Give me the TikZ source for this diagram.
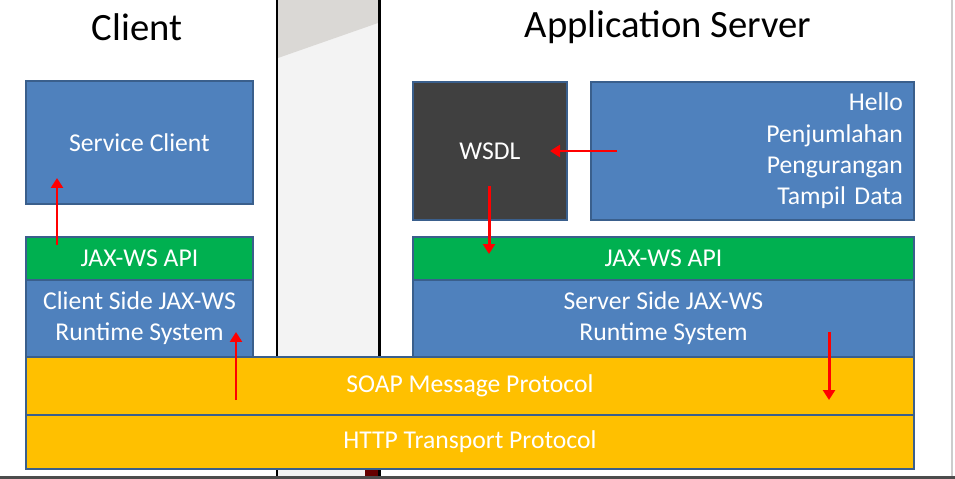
\documentclass[tikz,border=0pt]{standalone}
\usepackage{fontspec}
\setmainfont{Carlito}
\usetikzlibrary{positioning,arrows.meta}

\definecolor{boxblue}{HTML}{4F81BD}
\definecolor{boxedge}{HTML}{3A5F8C}
\definecolor{apigreen}{HTML}{00B050}
\definecolor{soapyellow}{HTML}{FFC000}
\definecolor{wsdlgray}{HTML}{404040}
\definecolor{paneltop}{HTML}{DAD8D5}
\definecolor{panellow}{HTML}{F3F3F3}

\begin{document}
\begin{tikzpicture}[x=0.02cm,y=-0.02cm,>={Triangle[length=0.2cm,width=0.24cm]},
  layer/.style={draw=boxedge,line width=1pt,text=white,outer sep=0pt,inner sep=0pt,
    align=center,font=\fontsize{14.6}{17.8}\selectfont},
  blue/.style={layer,fill=boxblue},
  api/.style={layer,fill=apigreen,minimum height=0.86cm},
  proto/.style={layer,fill=soapyellow,minimum width=17.76cm},
  title/.style={font=\fontsize{22}{26}\selectfont},
  flow/.style={->,red,line width=1.7pt}]
  \useasboundingbox (0,0) rectangle (955,479);
  \fill[white] (0,0) rectangle (955,479);

  % window pane between the two sides
  \fill[panellow] (278,0) rectangle (378,477);
  \fill[paneltop] (278,0) -- (378,0) -- (378,23) -- (278,58) -- cycle;
  \draw[black,line width=1.7pt] (277,0) -- (277,477) (379,0) -- (379,477);
  \fill[black!60!red] (365,470) rectangle (378,477);
  \draw[black!20,line width=0.6pt] (952,0) -- (952,476);
  \draw[black!70,line width=1.5pt] (0,477.5) -- (955,477.5);

  \node[title] (clienttitle) at (137,27) {Client};
  \node[title] (servertitle) at (668,27) {Application Server};

  % client side
  \node[blue,anchor=north west,minimum width=4.54cm,minimum height=2.46cm] (service) at (26,81) {Service Client};
  \node[api,anchor=north west,minimum width=4.54cm] (capi) at (26,237) {JAX-WS API};
  \node[blue,below=0pt of capi,minimum width=4.54cm,minimum height=1.54cm] (cruntime) {Client Side JAX-WS\\Runtime System};

  % server side
  \node[layer,fill=wsdlgray,anchor=north west,minimum width=3.08cm,minimum height=2.76cm] (wsdl) at (413,82) {WSDL};
  \node[blue,right=0.48cm of wsdl,align=right,text width=6.02cm,inner xsep=0.22cm,minimum height=2.76cm] (funcs)
    {Hello\\Penjumlahan\\Pengurangan\\Tampil Data};
  \node[api,anchor=north west,minimum width=10.02cm] (sapi) at (413,237) {JAX-WS API};
  \node[blue,below=0pt of sapi,minimum width=10.02cm,minimum height=1.54cm] (sruntime) {Server Side JAX-WS\\Runtime System};

  % shared protocol layers
  \node[proto,below right=0pt of cruntime.south west,minimum height=1.16cm] (soap) {SOAP Message Protocol};
  \node[proto,below=0pt of soap,minimum height=1.08cm] (http) {HTTP Transport Protocol};

  \coordinate (c1a) at (57,245);  \coordinate (c1b) at (57,178);
  \coordinate (c2a) at (236,400); \coordinate (c2b) at (236,332);
  \coordinate (s1a) at (617,151); \coordinate (s1b) at (550,151);
  \coordinate (s2a) at (489,186); \coordinate (s2b) at (489,254);
  \coordinate (s3a) at (829,332); \coordinate (s3b) at (829,400);

  \path[flow] (c1a) edge (c1b)
              (c2a) edge (c2b)
              (s1a) edge (s1b)
              (s2a) edge (s2b)
              (s3a) edge (s3b);
\end{tikzpicture}
\end{document}
